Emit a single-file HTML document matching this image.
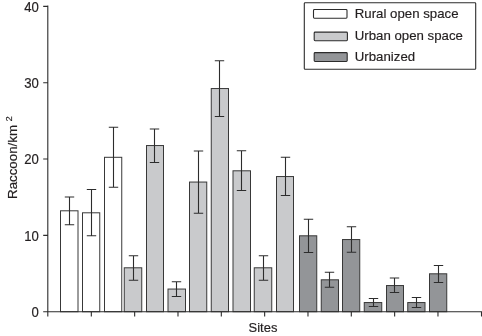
<!DOCTYPE html><html><head><meta charset="utf-8"><title>Raccoon density</title>
<style>html,body{margin:0;padding:0;background:#fff}svg{display:block}text{font-family:"Liberation Sans",sans-serif;fill:#231f20;stroke:#231f20;stroke-width:0.18px}</style></head><body>
<svg width="482" height="336" viewBox="0 0 482 336">
<rect width="482" height="336" fill="#fff"/>
<rect x="60.50" y="210.80" width="17.50" height="100.90" fill="#ffffff" stroke="#383838" stroke-width="1"/>
<rect x="82.50" y="212.80" width="17.25" height="98.90" fill="#ffffff" stroke="#383838" stroke-width="1"/>
<rect x="104.50" y="157.30" width="17.25" height="154.40" fill="#ffffff" stroke="#383838" stroke-width="1"/>
<rect x="124.25" y="267.80" width="17.50" height="43.90" fill="#c9cacc" stroke="#383838" stroke-width="1"/>
<rect x="146.50" y="145.55" width="17.00" height="166.15" fill="#c9cacc" stroke="#383838" stroke-width="1"/>
<rect x="168.00" y="289.05" width="17.50" height="22.65" fill="#c9cacc" stroke="#383838" stroke-width="1"/>
<rect x="189.50" y="182.05" width="17.25" height="129.65" fill="#c9cacc" stroke="#383838" stroke-width="1"/>
<rect x="211.25" y="88.55" width="17.25" height="223.15" fill="#c9cacc" stroke="#383838" stroke-width="1"/>
<rect x="233.00" y="170.80" width="17.50" height="140.90" fill="#c9cacc" stroke="#383838" stroke-width="1"/>
<rect x="254.25" y="267.80" width="17.50" height="43.90" fill="#c9cacc" stroke="#383838" stroke-width="1"/>
<rect x="276.50" y="176.55" width="17.00" height="135.15" fill="#c9cacc" stroke="#383838" stroke-width="1"/>
<rect x="299.50" y="235.80" width="17.25" height="75.90" fill="#939598" stroke="#383838" stroke-width="1"/>
<rect x="321.25" y="279.80" width="17.25" height="31.90" fill="#939598" stroke="#383838" stroke-width="1"/>
<rect x="342.50" y="239.55" width="17.25" height="72.15" fill="#939598" stroke="#383838" stroke-width="1"/>
<rect x="364.25" y="302.55" width="17.50" height="9.15" fill="#939598" stroke="#383838" stroke-width="1"/>
<rect x="386.50" y="285.55" width="17.00" height="26.15" fill="#939598" stroke="#383838" stroke-width="1"/>
<rect x="407.75" y="302.55" width="17.25" height="9.15" fill="#939598" stroke="#383838" stroke-width="1"/>
<rect x="429.50" y="273.80" width="17.25" height="37.90" fill="#939598" stroke="#383838" stroke-width="1"/>
<path d="M69.50 197.05V224.80M64.80 197.05H74.20M64.80 224.80H74.20" fill="none" stroke="#2c2c2c" stroke-width="1.1"/>
<path d="M91.50 189.55V235.80M86.80 189.55H96.20M86.80 235.80H96.20" fill="none" stroke="#2c2c2c" stroke-width="1.1"/>
<path d="M113.50 127.30V187.30M108.80 127.30H118.20M108.80 187.30H118.20" fill="none" stroke="#2c2c2c" stroke-width="1.1"/>
<path d="M133.50 255.80V280.30M128.80 255.80H138.20M128.80 280.30H138.20" fill="none" stroke="#2c2c2c" stroke-width="1.1"/>
<path d="M154.50 129.05V162.55M149.80 129.05H159.20M149.80 162.55H159.20" fill="none" stroke="#2c2c2c" stroke-width="1.1"/>
<path d="M176.50 281.80V296.55M171.80 281.80H181.20M171.80 296.55H181.20" fill="none" stroke="#2c2c2c" stroke-width="1.1"/>
<path d="M198.50 151.05V213.30M193.80 151.05H203.20M193.80 213.30H203.20" fill="none" stroke="#2c2c2c" stroke-width="1.1"/>
<path d="M219.50 60.80V116.55M214.80 60.80H224.20M214.80 116.55H224.20" fill="none" stroke="#2c2c2c" stroke-width="1.1"/>
<path d="M241.50 150.80V190.55M236.80 150.80H246.20M236.80 190.55H246.20" fill="none" stroke="#2c2c2c" stroke-width="1.1"/>
<path d="M263.50 255.80V280.30M258.80 255.80H268.20M258.80 280.30H268.20" fill="none" stroke="#2c2c2c" stroke-width="1.1"/>
<path d="M285.50 157.30V195.55M280.80 157.30H290.20M280.80 195.55H290.20" fill="none" stroke="#2c2c2c" stroke-width="1.1"/>
<path d="M308.50 219.30V252.50M303.80 219.30H313.20M303.80 252.50H313.20" fill="none" stroke="#2c2c2c" stroke-width="1.1"/>
<path d="M329.50 272.30V287.30M324.80 272.30H334.20M324.80 287.30H334.20" fill="none" stroke="#2c2c2c" stroke-width="1.1"/>
<path d="M351.50 226.80V252.30M346.80 226.80H356.20M346.80 252.30H356.20" fill="none" stroke="#2c2c2c" stroke-width="1.1"/>
<path d="M373.50 298.55V306.55M368.80 298.55H378.20M368.80 306.55H378.20" fill="none" stroke="#2c2c2c" stroke-width="1.1"/>
<path d="M394.50 278.05V292.55M389.80 278.05H399.20M389.80 292.55H399.20" fill="none" stroke="#2c2c2c" stroke-width="1.1"/>
<path d="M416.50 297.55V307.55M411.80 297.55H421.20M411.80 307.55H421.20" fill="none" stroke="#2c2c2c" stroke-width="1.1"/>
<path d="M438.50 265.55V282.55M433.80 265.55H443.20M433.80 282.55H443.20" fill="none" stroke="#2c2c2c" stroke-width="1.1"/>
<path d="M47.80 5.40V311.70M43.20 311.70H482M47.80 311.70V316.40M91.33 311.70V316.40M134.66 311.70V316.40M177.99 311.70V316.40M221.32 311.70V316.40M264.65 311.70V316.40M307.98 311.70V316.40M351.31 311.70V316.40M394.64 311.70V316.40M437.97 311.70V316.40M481.50 311.70V316.40M43.20 311.70H48.00M43.20 235.37H48.00M43.20 159.04H48.00M43.20 82.71H48.00M43.20 6.38H48.00" fill="none" stroke="#2c2c2c" stroke-width="1.1"/>
<text transform="translate(38.8 317.10) scale(0.94 1)" font-size="14" text-anchor="end">0</text>
<text transform="translate(38.8 240.77) scale(0.94 1)" font-size="14" text-anchor="end">10</text>
<text transform="translate(38.8 164.44) scale(0.94 1)" font-size="14" text-anchor="end">20</text>
<text transform="translate(38.8 88.11) scale(0.94 1)" font-size="14" text-anchor="end">30</text>
<text transform="translate(38.8 11.78) scale(0.94 1)" font-size="14" text-anchor="end">40</text>
<text transform="translate(263.0 331.7) scale(0.952 1)" font-size="13.6" text-anchor="middle">Sites</text>
<text transform="translate(17.2 198.9) rotate(-90) scale(0.978 1)" font-size="13.6">Raccoon/km<tspan dx="3.6" dy="-5.3" font-size="9.7">2</tspan></text>
<rect x="304.3" y="2.7" width="171.4" height="66.6" rx="0.8" fill="#fff" stroke="#2c2c2c" stroke-width="1.1"/>
<rect x="313.50" y="9.50" width="33.50" height="8.75" rx="0.9" fill="#ffffff" stroke="#2c2c2c" stroke-width="1.1"/>
<text transform="translate(354.8 17.50) scale(0.974 1)" font-size="13.6">Rural open space</text>
<rect x="314.20" y="32.10" width="33.20" height="8.60" rx="0.9" fill="#c9cacc" stroke="#2c2c2c" stroke-width="1.1"/>
<text transform="translate(354.8 40.00) scale(0.974 1)" font-size="13.6">Urban open space</text>
<rect x="314.20" y="52.60" width="33.00" height="8.90" rx="0.9" fill="#939598" stroke="#2c2c2c" stroke-width="1.1"/>
<text transform="translate(354.8 61.10) scale(0.974 1)" font-size="13.6">Urbanized</text>
</svg></body></html>
